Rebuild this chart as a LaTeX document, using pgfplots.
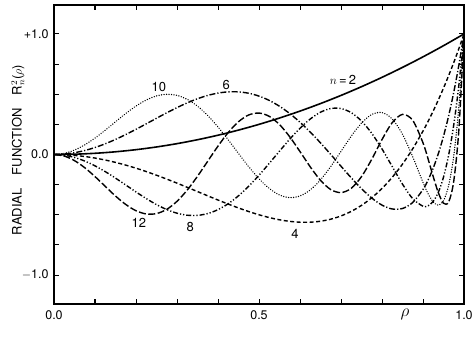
\documentclass[border=0pt]{standalone}
\usepackage{fontspec}
\setmainfont{TeX Gyre Heros}
\usepackage{pgfplots}
\pgfplotsset{compat=1.18}
\usetikzlibrary{calc}

\begin{document}
\begin{tikzpicture}
\begin{axis}[
  scale only axis, width=410pt, height=299pt,
  xmin=0, xmax=1, ymin=-1.24, ymax=1.24,
  xtick={0,0.5,1}, xticklabels={0.0,0.5,1.0},
  minor xtick={0.1,0.2,0.3,0.4,0.6,0.7,0.8,0.9},
  ytick={-1,0,1}, yticklabels={$-$1.0,0.0,+1.0},
  minor ytick={-0.75,-0.5,-0.25,0.25,0.5,0.75},
  tick align=inside, major tick length=5pt, minor tick length=5pt,
  every tick/.style={black, line width=1pt},
  axis line style={line width=1.3pt},
  tick label style={font=\fontsize{12.5}{14}\selectfont},
  xticklabel style={yshift=-3pt},
  yticklabel style={xshift=-2pt},
  ylabel={RADIAL\hspace{1em}FUNCTION\hspace{1em}R$^2_n$($\rho$)},
  ylabel style={font=\fontsize{13}{15}\selectfont, at={(axis description cs:-0.088,0.515)}, anchor=center},
  clip=true,
]
\coordinate (sw) at (rel axis cs:0,0);
\coordinate (ne) at (rel axis cs:1,1);

% n = 2 (solid)
\addplot[black, line width=1.6pt, smooth] coordinates {
(0,0) (0.05,0.0025) (0.1,0.01) (0.15,0.0225) (0.2,0.04) (0.25,0.0625) (0.3,0.09)
(0.35,0.1225) (0.4,0.16) (0.45,0.2025) (0.5,0.25) (0.55,0.3025) (0.6,0.36)
(0.65,0.4225) (0.7,0.49) (0.75,0.5625) (0.8,0.64) (0.85,0.7225) (0.9,0.81)
(0.95,0.9025) (1,1)};

% n = 4 (dashed)
\addplot[black, line width=1.4pt, smooth, dash pattern=on 4pt off 2.5pt] coordinates {
(0,0) (0.025,-0.0019) (0.05,-0.0075) (0.075,-0.0167) (0.1,-0.0296) (0.125,-0.0459)
(0.15,-0.0655) (0.175,-0.0881) (0.2,-0.1136) (0.225,-0.1416) (0.25,-0.1719)
(0.275,-0.2040) (0.3,-0.2376) (0.325,-0.2722) (0.35,-0.3075) (0.375,-0.3428)
(0.4,-0.3776) (0.425,-0.4114) (0.45,-0.4435) (0.475,-0.4732) (0.5,-0.5)
(0.525,-0.5230) (0.55,-0.5415) (0.575,-0.5546) (0.6,-0.5616) (0.625,-0.5615)
(0.65,-0.5535) (0.675,-0.5365) (0.7,-0.5096) (0.725,-0.4717) (0.75,-0.4219)
(0.775,-0.3589) (0.8,-0.2816) (0.825,-0.1889) (0.85,-0.0795) (0.875,0.0479)
(0.9,0.1944) (0.9125,0.2753) (0.925,0.3615) (0.9375,0.4532) (0.95,0.5505)
(0.9625,0.6537) (0.975,0.7629) (0.9875,0.8783) (1,1)};

% n = 6 (dash-dot)
\addplot[black, line width=1.4pt, smooth, dash pattern=on 6pt off 2pt on 1.2pt off 2pt] coordinates {
(0,0) (0.025,0.0037) (0.05,0.0149) (0.075,0.0331) (0.1,0.0580) (0.125,0.0889)
(0.15,0.1250) (0.175,0.1654) (0.2,0.2090) (0.225,0.2544) (0.25,0.3005)
(0.275,0.3459) (0.3,0.3889) (0.325,0.4283) (0.35,0.4624) (0.375,0.4900)
(0.4,0.5094) (0.425,0.5196) (0.45,0.5194) (0.475,0.5079) (0.5,0.4844)
(0.525,0.4485) (0.55,0.4001) (0.575,0.3396) (0.6,0.2678) (0.625,0.1861)
(0.65,0.0962) (0.675,0.0006) (0.7,-0.0973) (0.725,-0.1936) (0.75,-0.2834)
(0.775,-0.3611) (0.8,-0.4198) (0.825,-0.4518) (0.85,-0.4479) (0.875,-0.3980)
(0.9,-0.2904) (0.9125,-0.2110) (0.925,-0.1122) (0.9375,0.0079) (0.95,0.1513)
(0.9625,0.3199) (0.975,0.5160) (0.9875,0.7419) (1,1)};

% n = 8 (dash-dot-dot)
\addplot[black, line width=1.4pt, smooth, dash pattern=on 5pt off 2pt on 1.2pt off 2pt on 1.2pt off 2pt] coordinates {
(0,0) (0.025,-0.0062) (0.05,-0.0246) (0.075,-0.0544) (0.1,-0.0941) (0.125,-0.1420)
(0.15,-0.1958) (0.175,-0.2529) (0.2,-0.3106) (0.225,-0.3657) (0.25,-0.4154)
(0.275,-0.4567) (0.3,-0.4869) (0.325,-0.5036) (0.35,-0.5050) (0.375,-0.4898)
(0.4,-0.4574) (0.425,-0.4079) (0.45,-0.3424) (0.475,-0.2627) (0.5,-0.1719)
(0.525,-0.0735) (0.55,0.0278) (0.575,0.1268) (0.6,0.2177) (0.625,0.2944)
(0.65,0.3508) (0.675,0.3813) (0.7,0.3811) (0.725,0.3471) (0.75,0.2780)
(0.775,0.1757) (0.8,0.0461) (0.825,-0.1001) (0.85,-0.2459) (0.875,-0.3668)
(0.9,-0.4291) (0.9125,-0.4250) (0.925,-0.3885) (0.9375,-0.3123) (0.95,-0.1877)
(0.9625,-0.0054) (0.975,0.2454) (0.9875,0.5762) (1,1)};

% n = 10 (dotted)
\addplot[black, line width=1.4pt, smooth, line cap=round, dash pattern=on 0.1pt off 2.4pt] coordinates {
(0,0) (0.025,0.0093) (0.05,0.0366) (0.075,0.0800) (0.1,0.1364) (0.125,0.2018)
(0.15,0.2713) (0.175,0.3397) (0.2,0.4016) (0.225,0.4518) (0.25,0.4857)
(0.275,0.4994) (0.3,0.4904) (0.325,0.4574) (0.35,0.4010) (0.375,0.3233)
(0.4,0.2280) (0.425,0.1208) (0.45,0.0082) (0.475,-0.1018) (0.5,-0.2012)
(0.525,-0.2816) (0.55,-0.3358) (0.575,-0.3578) (0.6,-0.3440) (0.625,-0.2937)
(0.65,-0.2100) (0.675,-0.0997) (0.7,0.0260) (0.725,0.1520) (0.75,0.2605)
(0.775,0.3320) (0.8,0.3479) (0.825,0.2945) (0.85,0.1678) (0.875,-0.0200)
(0.9,-0.2318) (0.9125,-0.3255) (0.925,-0.3941) (0.9375,-0.4206) (0.95,-0.3839)
(0.9625,-0.2580) (0.975,-0.0115) (0.9875,0.3930) (1,1)};

% n = 12 (long dashes)
\addplot[black, line width=1.4pt, smooth, dash pattern=on 7pt off 2.5pt] coordinates {
(0,0) (0.025,-0.0130) (0.05,-0.0508) (0.075,-0.1095) (0.1,-0.1832) (0.125,-0.2644)
(0.15,-0.3445) (0.175,-0.4145) (0.2,-0.4664) (0.225,-0.4932) (0.25,-0.4901)
(0.275,-0.4549) (0.3,-0.3884) (0.325,-0.2947) (0.35,-0.1805) (0.375,-0.0554)
(0.4,0.0696) (0.425,0.1826) (0.45,0.2720) (0.475,0.3281) (0.5,0.3438)
(0.525,0.3165) (0.55,0.2483) (0.575,0.1467) (0.6,0.0241) (0.625,-0.1026)
(0.65,-0.2141) (0.675,-0.2908) (0.7,-0.3162) (0.725,-0.2804) (0.75,-0.1837)
(0.775,-0.0395) (0.8,0.1239) (0.825,0.2645) (0.85,0.3326) (0.875,0.2830)
(0.9,0.0967) (0.9125,-0.0382) (0.925,-0.1841) (0.9375,-0.3177) (0.95,-0.4042)
(0.9625,-0.3943) (0.975,-0.2208) (0.9875,0.2054) (1,1)};

\node[font=\fontsize{13}{15}\selectfont] at (axis cs:0.256,0.556) {10};
\node[font=\fontsize{13}{15}\selectfont] at (axis cs:0.42,0.58) {6};
\node[font=\fontsize{13}{15}\selectfont] at (axis cs:0.705,0.62) {$n$\,=\,2};
\node[font=\fontsize{13}{15}\selectfont] at (axis cs:0.207,-0.564) {12};
\node[font=\fontsize{13}{15}\selectfont] at (axis cs:0.332,-0.60) {8};
\node[font=\fontsize{13}{15}\selectfont] at (axis cs:0.588,-0.655) {4};
\end{axis}
\node[anchor=north, font=\fontsize{18}{20}\selectfont] at ($(sw)!0.856!(sw -| ne) + (0,-2pt)$) {$\rho$};
\pgfresetboundingbox
\path[use as bounding box] ($(sw)+(-54pt,-41pt)$) rectangle ($(ne)+(10pt,5pt)$);
\end{tikzpicture}
\end{document}
